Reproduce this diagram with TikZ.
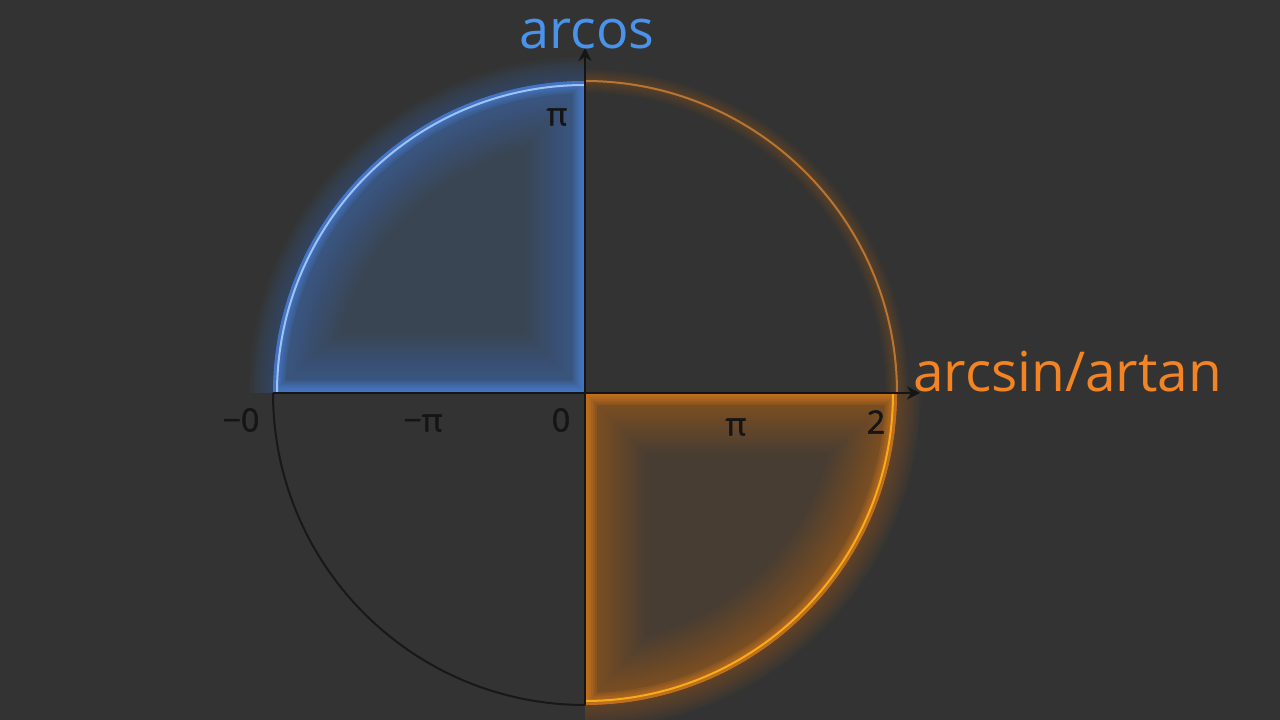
\documentclass[tikz,border=0pt]{standalone}
\usepackage{fontspec}
\setmainfont{Open Sans}
\newfontfamily\labfont{Open Sans}[FakeBold=1.6]
\usetikzlibrary{arrows.meta}
\definecolor{bg}{HTML}{333333}
\definecolor{bluec}{HTML}{4F8FF5}
\definecolor{bluefillc}{HTML}{394553}
\definecolor{orangec}{HTML}{F58A1F}
\definecolor{orangefillc}{HTML}{483D32}
\definecolor{bluetxt}{HTML}{4A93EC}
\definecolor{orangetxt}{HTML}{F28423}
\definecolor{inkc}{HTML}{151515}
\tikzset{
  bq/.style={insert path={(585,327) -- (273,327) arc[start angle=180,end angle=90,radius=312] -- cycle}},
  oq/.style={insert path={(585,327) -- (585,15) arc[start angle=270,end angle=360,radius=312] -- cycle}},
  axis/.style={draw=inkc, line width=2.2pt, -{Stealth[length=13pt,width=13pt]}},
  lab/.style={text=inkc, font=\labfont\fontsize{32}{32}\selectfont, inner sep=0pt},
  big/.style={inner sep=0pt}
}
\begin{document}
\begin{tikzpicture}[x=1pt,y=1pt]
\fill[bg] (0,0) rectangle (1280,720);
\useasboundingbox (0,0) rectangle (1280,720);
% outer glows
\foreach \i in {1,...,12} {
  \draw[bluec, line width=4*\i, opacity=0.025] (273,327) arc[start angle=180,end angle=90,radius=312];
  \draw[orangec, line width=4*\i, opacity=0.025] (585,15) arc[start angle=270,end angle=360,radius=312];
  \draw[orangec, line width=2*\i, opacity=0.02] (585,639) arc[start angle=90,end angle=0,radius=312];
}
% blue quadrant
\begin{scope}
  \clip[bq];
  \fill[bluefillc, bq];
  \foreach \i in {1,...,20} {
    \draw[bluec, line width=6*\i, opacity=0.022, bq];
  }
  \foreach \i in {1,...,6} {
    \draw[bluec, line width=4*\i, opacity=0.13, bq];
  }
\end{scope}
\draw[bluec!55!white, line width=2pt] (277,327) arc[start angle=180,end angle=90,radius=308];
% orange quadrant
\begin{scope}
  \clip[oq];
  \fill[orangefillc, oq];
  \foreach \i in {1,...,20} {
    \draw[orangec, line width=6*\i, opacity=0.022, oq];
  }
  \foreach \i in {1,...,6} {
    \draw[orangec, line width=4*\i, opacity=0.13, oq];
  }
\end{scope}
\draw[orangec!70!yellow, line width=2pt] (585,19) arc[start angle=270,end angle=360,radius=308];
% upper-right thin arc
\draw[orangec!75!gray, line width=2pt, opacity=0.75] (585,639) arc[start angle=90,end angle=0,radius=312];
% lower-left dark arc
\draw[inkc!90!bg, line width=2pt] (273,327) arc[start angle=180,end angle=270,radius=312];
% axes
\coordinate (O) at (585,327);
\coordinate (Xl) at (273,327);
\coordinate (Xr) at (920,327);
\coordinate (Yb) at (585,15);
\coordinate (Yt) at (585,672);
\draw[axis] (Xl) -- (Xr);
\draw[axis] (Yb) -- (Yt);
% labels
\node[big, text=bluetxt, font=\fontsize{54}{54}\selectfont] (acos) at (587,686) {arcos};
\node[big, text=orangetxt, anchor=west, font=\fontsize{55}{55}\selectfont] (asin) at (913,348) {arcsin/artan};
\node[lab] (piy) at (557,603) {π};
\node[lab] (m0) at (241,300) {−0};
\node[lab] (mpi) at (423,297) {−π};
\node[lab] (z) at (561,300) {0};
\node[lab] (pix) at (736,293) {π};
\node[lab] (two) at (876,298) {2};
\end{tikzpicture}
\end{document}
